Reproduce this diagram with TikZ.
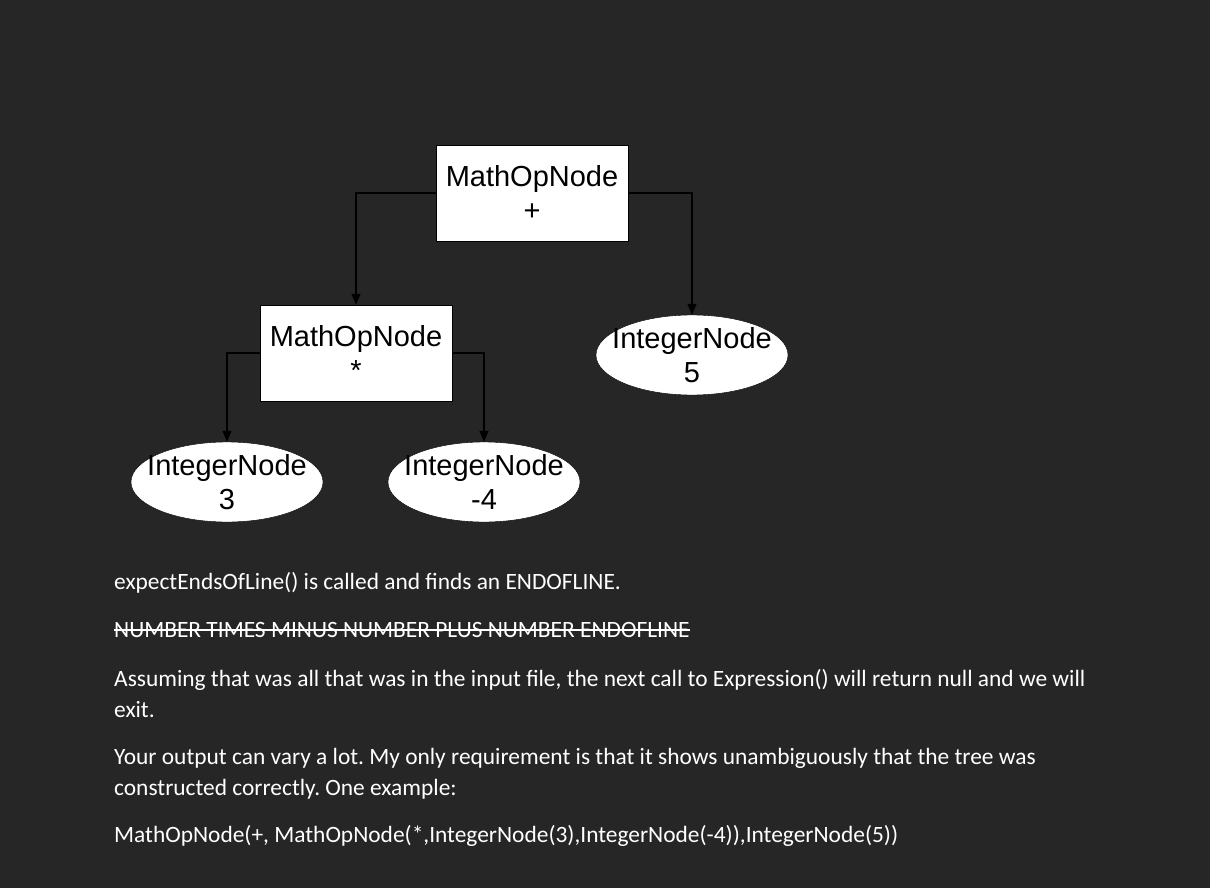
\documentclass[tikz,border=0pt]{standalone}
\usepackage{fontspec}
\setmainfont{Liberation Sans}
\newfontfamily\calib{Carlito}
\usetikzlibrary{shapes.geometric,arrows.meta}
\definecolor{bg}{HTML}{262626}
\frenchspacing
\tikzset{
 box/.style={draw=black,fill=white,minimum width=192pt,minimum height=96pt,inner sep=0pt,font=\fontsize{29}{34}\selectfont,align=center},
 ell/.style={ellipse,draw=black,fill=white,minimum width=192pt,minimum height=80pt,inner xsep=-40pt,inner ysep=0pt,font=\fontsize{29}{34}\selectfont,align=center},
 conn/.style={draw=black,line width=1.3pt,-{Triangle[length=11pt,width=9pt]}},
 para/.style={anchor=west,text=white,font=\calib\fontsize{23.4}{31}\selectfont,inner sep=0pt,align=left}
}
\begin{document}
\begin{tikzpicture}[x=1pt,y=-1pt]
\fill[bg] (0,0) rectangle (1210,888);
\useasboundingbox (0,0) rectangle (1210,888);
\node[box] (top) at (532,193) {MathOpNode\\+};
\node[box] (mid) at (356,353) {MathOpNode\\*};
\node[ell] (five) at (692,355) {IntegerNode\\5};
\node[ell] (three) at (227,482) {IntegerNode\\3};
\node[ell] (four) at (484,482) {IntegerNode\\-4};
\draw[conn] (top.west) -| (mid.north);
\draw[conn] (top.east) -| (five.north);
\draw[conn] (mid.west) -| (three.north);
\draw[conn] (mid.east) -| (four.north);
\node[para] (p1) at (114,583) {expectEndsOfLine() is called and finds an ENDOFLINE.};
\node[para] (p2) at (114,630) {NUMBER TIMES MINUS NUMBER PLUS NUMBER ENDOFLINE};
\draw[white,line width=1.3pt] (p2.west) -- (p2.east);
\node[para] (p3) at (114,694) {Assuming that was all that was in the input file, the next call to Expression() will return null and we will\\exit.};
\node[para] (p4) at (114,774) {Your output can vary a lot. My only requirement is that it shows unambiguously that the tree was\\constructed correctly. One example:};
\node[para] (p5) at (114,836) {MathOpNode(+, MathOpNode(*,IntegerNode(3),IntegerNode(-4)),IntegerNode(5))};
\end{tikzpicture}
\end{document}
